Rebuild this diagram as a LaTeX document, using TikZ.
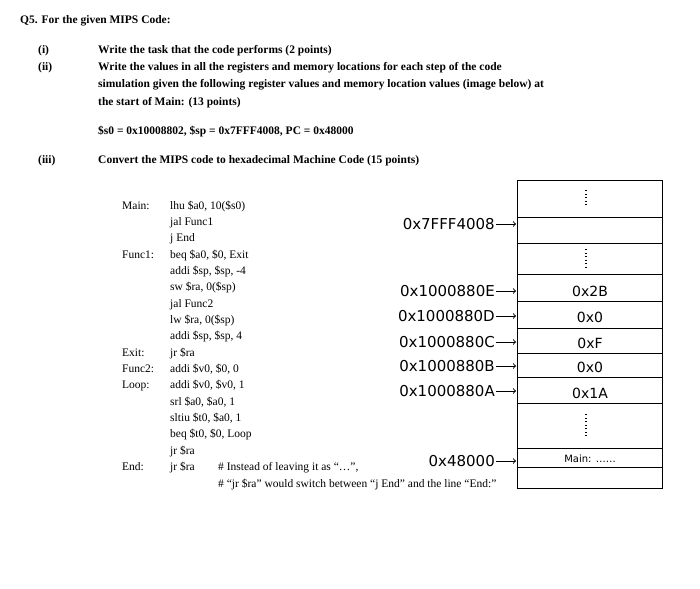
\documentclass[tikz,border=0pt]{standalone}
\usepackage{fontspec}
\setmainfont{Liberation Serif}
\newfontfamily\hand{DejaVu Sans}
\begin{document}
\begin{tikzpicture}[x=1pt,y=-1pt,
  hd/.style={anchor=base west,font=\bfseries\fontsize{11.5}{13}\selectfont,inner sep=0},
  cd/.style={anchor=base west,font=\fontsize{11.5}{13}\selectfont,inner sep=0},
  hw/.style={anchor=base east,font=\hand\fontsize{15}{17}\selectfont,inner sep=0},
  hv/.style={anchor=base,font=\hand\fontsize{14}{16}\selectfont,inner sep=0},
  arr/.style={->,line width=1pt},
  mem/.style={line width=1pt},
  dots/.style={line width=1.3pt,dash pattern=on 1.3pt off 2.2pt}]
\useasboundingbox (0,0) rectangle (700,588);
\node[hd] (t) at (20,24) {Q5. For the given MIPS Code:};
\node[hd] (n1) at (38,54) {(i)};
\node[hd] (a1) at (98,54) {Write the task that the code performs (2 points)};
\node[hd] (n2) at (38,71) {(ii)};
\node[hd] (a2) at (98,71) {Write the values in all the registers and memory locations for each step of the code};
\node[hd] (a3) at (98,88) {simulation given the following register values and memory location values (image below) at};
\node[hd] (a4) at (98,106) {the start of Main: (13 points)};
\node[hd] (a5) at (98,135) {\$s0 = 0x10008802, \$sp = 0x7FFF4008, PC = 0x48000};
\node[hd] (n3) at (38,163) {(iii)};
\node[hd] (a6) at (98,163) {Convert the MIPS code to hexadecimal Machine Code (15 points)};
% code
\foreach \l/\c [count=\i] in {Main:/lhu \$a0{,} 10(\$s0),/jal Func1,/j End,Func1:/beq \$a0{,} \$0{,} Exit,/addi \$sp{,} \$sp{,} -4,/sw \$ra{,} 0(\$sp),/jal Func2,/lw \$ra{,} 0(\$sp),/addi \$sp{,} \$sp{,} 4,Exit:/jr \$ra,Func2:/addi \$v0{,} \$0{,} 0,Loop:/addi \$v0{,} \$v0{,} 1,/srl \$a0{,} \$a0{,} 1,/sltiu \$t0{,} \$a0{,} 1,/beq \$t0{,} \$0{,} Loop,/jr \$ra,End:/jr \$ra}{
  \node[cd] (l\i) at (122,{209+(\i-1)*16.35}) {\l};
  \node[cd] (c\i) at (170,{209+(\i-1)*16.35}) {\c};
}
\node[cd] (cm1) at (218,470.6) {\# Instead of leaving it as ``\dots'',};
\node[cd] (cm2) at (218,487) {\# ``jr \$ra'' would switch between ``j End'' and the line ``End:''};
% memory
\draw[mem] (517,180) rectangle (662,488);
\foreach \y in {217,243,274,301,328,353,377,403,448,467}{\draw[mem] (517,\y) -- (662,\y);}
\draw[dots] (586,190) -- (586,207);
\draw[dots] (586,249) -- (586,268);
\draw[dots] (586,414) -- (586,436);
\node[hv] (v1) at (590,296) {0x2B};
\node[hv] (v2) at (590,322) {0x0};
\node[hv] (v3) at (590,348) {0xF};
\node[hv] (v4) at (590,372) {0x0};
\node[hv] (v5) at (590,398) {0x1A};
\node[hv,font=\hand\fontsize{10}{11}\selectfont] (v6) at (590,462) {Main: \dots\dots};
\foreach \n/\t/\y in {p1/0x7FFF4008/229,p2/0x1000880E/296,p3/0x1000880D/321,p4/0x1000880C/347,p5/0x1000880B/371,p6/0x1000880A/396,p7/0x48000/466}{
  \node[hw] (\n) at (495,\y) {\t};
  \coordinate (q\n) at (516,{\y-5});
  \draw[arr] ([xshift=1pt,yshift=5pt]\n.base east) -- (q\n);
}
\end{tikzpicture}
\end{document}
